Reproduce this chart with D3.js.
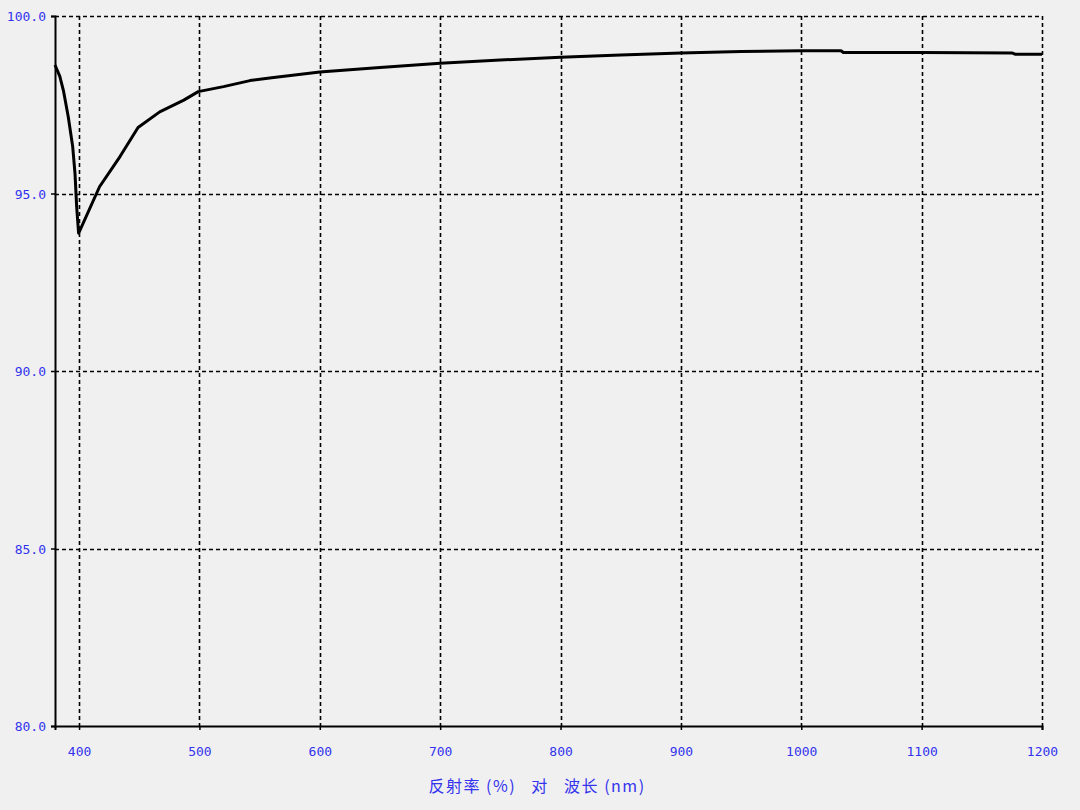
<!DOCTYPE html>
<html>
<head>
<meta charset="utf-8">
<script src="https://cdn.jsdelivr.net/npm/d3@7"></script>
<style>
  body { margin: 0; background: #f0f0f0; }
  svg { display: block; }
  .tick-label { font-family: "DejaVu Sans Mono", monospace; font-size: 13px; fill: #3333ee; }
  .axis-title { font-family: "Noto Sans CJK SC", "DejaVu Sans Mono", sans-serif; font-size: 16px; fill: #3333ee; }
</style>
</head>
<body>
<div id="chart"></div>
<script>
// Chart area
var svgWidth = 1080;
var svgHeight = 810;

var chartMargin = { top: 16, right: 38, bottom: 84, left: 55 };

var chartWidth = svgWidth - chartMargin.left - chartMargin.right;
var chartHeight = svgHeight - chartMargin.top - chartMargin.bottom;

// Data: reflectance (%) vs wavelength (nm)
var wavelength = [380, 384, 387, 391, 394.7, 396.6, 398, 399.6, 417, 434, 449, 467, 487, 499, 520, 542,
  560, 600, 650, 700, 750, 800, 850, 900, 950, 1000, 1033, 1035, 1100, 1175, 1178, 1200];
var reflectance = [98.62, 98.3, 97.9, 97.16, 96.32, 95.57, 94.63, 93.88, 95.19, 96.04, 96.86, 97.3, 97.63, 97.87, 98.01, 98.18,
  98.26, 98.42, 98.55, 98.67, 98.76, 98.84, 98.9, 98.96, 99.0, 99.02, 99.02, 98.97, 98.97, 98.96, 98.92, 98.92];

var xTicks = [400, 500, 600, 700, 800, 900, 1000, 1100, 1200];
var yTicks = [80, 85, 90, 95, 100];
var axisTitle = "反射率 (%)\u00a0\u00a0 对 \u00a0\u00a0波长 (nm)";

var data = wavelength.map(function(w, i) { return { w: w, r: reflectance[i] }; });

var svg = d3.select("#chart")
  .append("svg")
  .attr("width", svgWidth)
  .attr("height", svgHeight);

svg.append("rect")
  .attr("width", svgWidth)
  .attr("height", svgHeight)
  .attr("fill", "#f0f0f0");

var chartGroup = svg.append("g")
  .attr("transform", `translate(${chartMargin.left}, ${chartMargin.top})`);

var xScale = d3.scaleLinear().domain([380, 1200]).range([0, chartWidth]);
var yScale = d3.scaleLinear().domain([80, 100]).range([chartHeight, 0]);

// dashed grid lines
chartGroup.selectAll(".vgrid")
  .data(xTicks)
  .enter()
  .append("line")
  .attr("x1", d => Math.round(xScale(d)) + 0.5)
  .attr("x2", d => Math.round(xScale(d)) + 0.5)
  .attr("y1", 0)
  .attr("y2", chartHeight)
  .attr("stroke", "#000")
  .attr("stroke-width", 1.6)
  .attr("stroke-dasharray", "4,3");

chartGroup.selectAll(".hgrid")
  .data(yTicks.filter(d => d > 80))
  .enter()
  .append("line")
  .attr("x1", 0)
  .attr("x2", chartWidth)
  .attr("y1", d => Math.round(yScale(d)) + 0.5)
  .attr("y2", d => Math.round(yScale(d)) + 0.5)
  .attr("stroke", "#000")
  .attr("stroke-width", 1.6)
  .attr("stroke-dasharray", "4,3");

// axes
var bottomAxis = d3.axisBottom(xScale).tickValues(xTicks).tickSize(4).tickPadding(17).tickFormat(d3.format("d"));
var leftAxis = d3.axisLeft(yScale).tickValues(yTicks).tickSize(4).tickPadding(5).tickFormat(d3.format(".1f"));

var xAxis = chartGroup.append("g")
  .attr("transform", `translate(0, ${chartHeight})`)
  .call(bottomAxis);

var yAxis = chartGroup.append("g")
  .call(leftAxis);

[xAxis, yAxis].forEach(function(ax) {
  ax.select(".domain").attr("stroke", "#000").attr("stroke-width", 2);
  ax.selectAll(".tick line").attr("stroke", "#000").attr("stroke-width", 1.5);
  ax.selectAll(".tick text").attr("class", "tick-label").attr("fill", null);
});
yAxis.selectAll(".tick text").attr("dy", "0.35em");

// the reflectance curve
var line = d3.line()
  .x(d => xScale(d.w))
  .y(d => yScale(d.r));

chartGroup.append("path")
  .datum(data)
  .attr("d", line)
  .attr("fill", "none")
  .attr("stroke", "#000")
  .attr("stroke-width", 3)
  .attr("stroke-linejoin", "round");

// axis title
svg.append("text")
  .attr("class", "axis-title")
  .attr("x", 537)
  .attr("y", 792)
  .attr("text-anchor", "middle")
  .attr("letter-spacing", 1.5)
  .text(axisTitle);
</script>
</body>
</html>
